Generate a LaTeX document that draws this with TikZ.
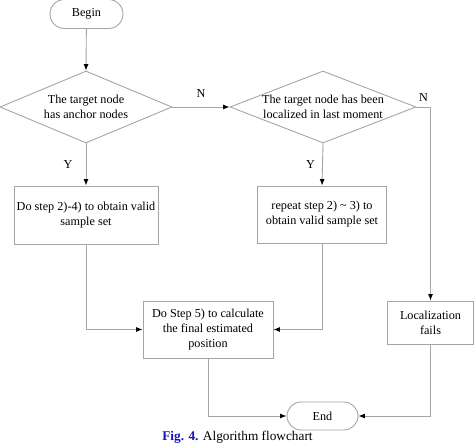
\documentclass[tikz,border=0pt]{standalone}
\usepackage{fontspec}
\setmainfont{Liberation Serif}
\usetikzlibrary{shapes.geometric,shapes.misc,arrows.meta}
\definecolor{linegray}{RGB}{165,165,165}
\definecolor{figblue}{RGB}{20,20,190}
\begin{document}
\begin{tikzpicture}[x=1pt,y=-1pt,
  every node/.style={font=\fontsize{12.2}{15}\selectfont},
  decision/.style={diamond,draw=linegray,line width=0.9pt,inner sep=0pt,align=center,text width=6pt},
  procbox/.style={rectangle,draw=linegray,line width=0.9pt,inner sep=0pt,align=center},
  terminal/.style={rounded rectangle,draw=linegray,line width=0.9pt,inner sep=0pt},
  flow/.style={draw=linegray,line width=0.9pt,-{Latex[length=6.5pt,width=5pt,black]}},
  lbl/.style={inner sep=0pt}]
\useasboundingbox (0,0) rectangle (474,443);
\node[terminal,minimum width=73pt,minimum height=29pt] (begin) at (86.5,14) {Begin};
\node[decision,minimum width=172pt,minimum height=72pt] (d1) at (86,107) {};
\node[align=center,inner sep=0pt] (d1t) at (86,107) {The target node\\has anchor nodes};
\node[decision,minimum width=186pt,minimum height=72pt] (d2) at (323,107) {};
\node[align=center,inner sep=0pt] (d2t) at (323,107) {The target node has been\\localized in last moment};
\node[procbox,minimum width=144pt,minimum height=58pt] (b1) at (86,215) {Do step 2)-4) to obtain valid\\sample set};
\node[procbox,minimum width=129pt,minimum height=57pt] (b2) at (322,214.5) {repeat step 2) \textasciitilde{} 3) to\\obtain valid sample set};
\node[procbox,minimum width=130pt,minimum height=57pt] (b3) at (208,329.5) {Do Step 5) to calculate\\the final estimated\\position};
\node[procbox,minimum width=86pt,minimum height=43pt] (loc) at (430.5,322.5) {Localization\\fails};
\node[terminal,minimum width=71pt,minimum height=28pt] (end) at (322.5,416) {End};
\draw[flow] (begin) -- (d1.north);
\draw[flow] (d1.east) -- node[lbl,above=9pt] (n1) {N} (d2.west);
\draw[flow] (d1.south) -- node[lbl,left=13pt] (y1) {Y} (b1.north);
\draw[flow] (d2.south) -- node[lbl,left=7pt] (y2) {Y} (b2.north);
\draw[flow] (d2.east) -| node[lbl,pos=0.25,above=5pt] (n2) {N} (loc.north);
\draw[flow] (b1.south) |- (b3.west);
\draw[flow] (b2.south) |- (b3.east);
\draw[flow] (b3.south) |- (end.west);
\draw[flow] (loc.south) |- (end.east);
\node[anchor=base,inner sep=0pt,font=\fontsize{13.3}{15}\selectfont] (cap) at (237.5,441) {\textcolor{figblue}{\textbf{Fig. 4.}} Algorithm flowchart};
\end{tikzpicture}
\end{document}
